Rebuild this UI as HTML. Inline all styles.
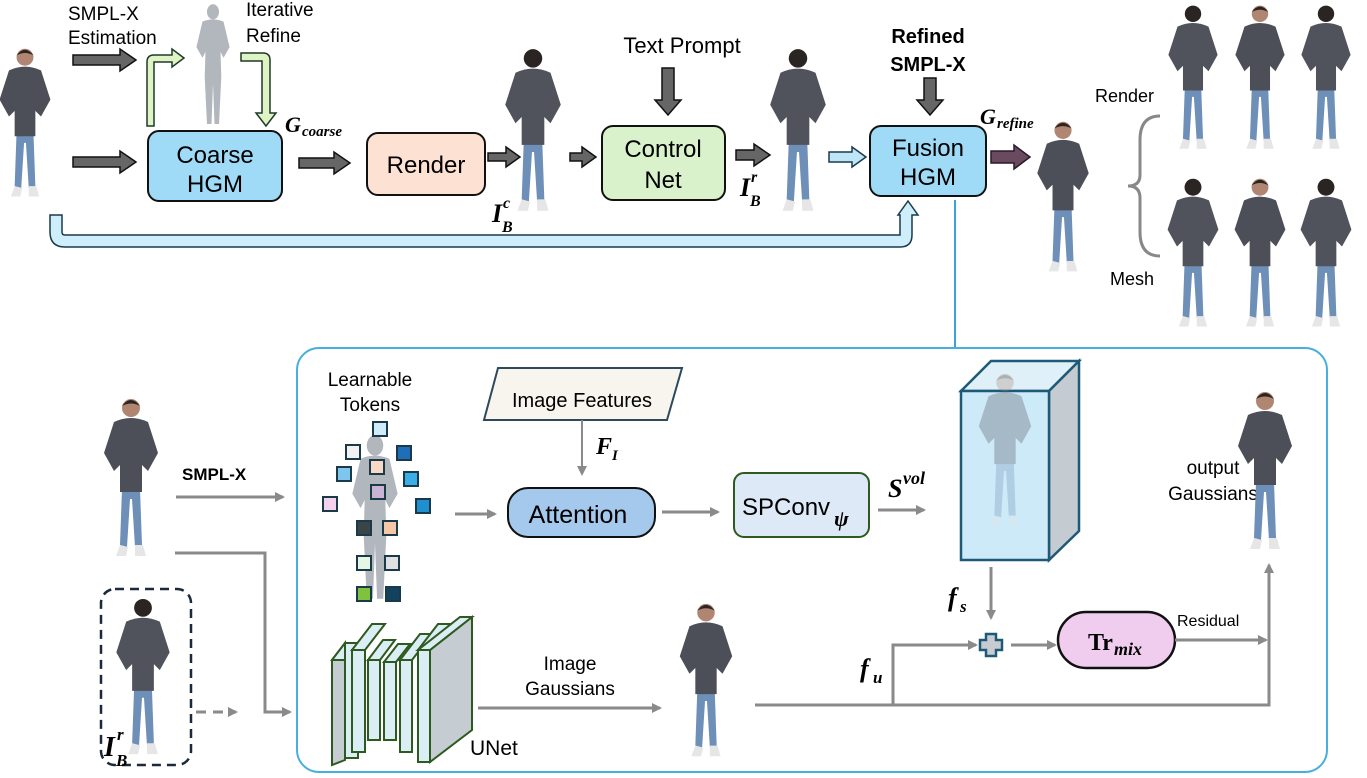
<!DOCTYPE html>
<html><head><meta charset="utf-8"><style>
html,body{margin:0;padding:0;background:#fff;}
svg{display:block;font-family:"Liberation Sans",sans-serif;}
.it{font-family:"Liberation Serif",serif;font-style:italic;font-weight:bold;}
</style></head><body>
<svg width="1367" height="778" viewBox="0 0 1367 778" xmlns="http://www.w3.org/2000/svg">
<defs>
<marker id="ga" markerWidth="10" markerHeight="10" refX="8" refY="5" orient="auto" markerUnits="userSpaceOnUse"><path d="M0,0 L10,5 L0,10 Z" fill="#8a8a8a"/></marker>
<symbol id="pf" viewBox="0 0 60 170">
<path d="M21,94 L39,94 L41,150 L34,152 L31,104 L29,104 L26,152 L19,150 Z" fill="#6d8fb8"/>
<path d="M19,150 L27,152 L25,161 L15,161 Z M34,150 L42,150 L45,161 L34,161 Z" fill="#e6e6e6"/>
<path d="M13,27 Q30,19 47,27 L57,58 L47,76 L41,70 L41,97 L19,97 L19,70 L13,76 L3,58 Z" fill="#4c4f57"/>
<circle cx="30" cy="13" r="9" fill="#b08672"/>
<path d="M21,11 Q30,-1 39,11 Q30,6 21,11Z" fill="#2a2522"/>
</symbol>
<symbol id="pb" viewBox="0 0 60 170">
<path d="M21,94 L39,94 L41,150 L34,152 L31,104 L29,104 L26,152 L19,150 Z" fill="#6d8fb8"/>
<path d="M19,150 L27,152 L25,161 L15,161 Z M34,150 L42,150 L45,161 L34,161 Z" fill="#e6e6e6"/>
<path d="M13,27 Q30,19 47,27 L57,58 L47,76 L41,70 L41,97 L19,97 L19,70 L13,76 L3,58 Z" fill="#50535b"/>
<circle cx="30" cy="13" r="9" fill="#2a2522"/>
</symbol>
<symbol id="pm" viewBox="0 0 60 170">
<ellipse cx="30" cy="13" rx="8" ry="10" fill="#b2b6bd"/>
<path d="M16,26 Q30,20 44,26 L52,60 L44,74 L40,66 L41,100 L38,162 L32,162 L30,108 L28,162 L22,162 L19,100 L20,66 L16,74 L8,60 Z" fill="#b2b6bd"/>
</symbol>
</defs>

<!-- TOP ROW -->
<use href="#pf" x="-5" y="45" width="60" height="160"/>
<text x="68" y="20" font-size="19">SMPL-X</text>
<text x="68" y="44" font-size="19">Estimation</text>
<path d="M73,55 H120 V49 L136,60 L120,71 V65 H73 Z" fill="#666" stroke="#111" stroke-width="1.5"/>
<path d="M73,157 H120 V151 L136,162 L120,173 V167 H73 Z" fill="#666" stroke="#111" stroke-width="1.5"/>
<use href="#pm" x="180" y="2" width="66" height="128"/>
<text x="246" y="16" font-size="19">Iterative</text>
<text x="246" y="42" font-size="19">Refine</text>
<path d="M147,126 V62 Q147,55 154,55 H172 V49 L184,58 L172,67 V62 H154 V126 Z" fill="#dff3c4" stroke="#1f3a2a" stroke-width="1.5"/>
<path d="M241,53 H263 Q270,53 270,60 V113 H276 L266,126 L256,113 H262 V61 H241 Z" fill="#dff3c4" stroke="#1f3a2a" stroke-width="1.5"/>
<rect x="148" y="131" width="134" height="70" rx="11" fill="#9fdaf6" stroke="#111" stroke-width="2"/>
<text x="215" y="163" font-size="24" text-anchor="middle">Coarse</text>
<text x="215" y="192" font-size="24" text-anchor="middle">HGM</text>
<text x="285" y="132" class="it" font-size="22">G</text><text x="302" y="136" class="it" font-size="15">coarse</text>
<path d="M299,158 H334 V152 L350,163 L334,174 V168 H299 Z" fill="#666" stroke="#111" stroke-width="1.5"/>
<rect x="367" y="133" width="118" height="62" rx="11" fill="#fde1d2" stroke="#111" stroke-width="2"/>
<text x="426" y="173" font-size="24" text-anchor="middle">Render</text>
<path d="M488,153 H506 V147 L520,157 L506,167 V161 H488 Z" fill="#666" stroke="#111" stroke-width="1.5"/>
<use href="#pb" x="500" y="45" width="66" height="175"/>
<text x="492" y="222" class="it" font-size="26">I</text><text x="503" y="208" class="it" font-size="16">c</text><text x="502" y="232" class="it" font-size="16">B</text>
<path d="M570,153 H582 V147 L596,157 L582,167 V161 H570 Z" fill="#666" stroke="#111" stroke-width="1.5"/>
<text x="682" y="53" font-size="22" text-anchor="middle">Text Prompt</text>
<path d="M662,68 H674 V100 H681 L668,115 L655,100 H662 Z" fill="#666" stroke="#111" stroke-width="1.5"/>
<rect x="602" y="126" width="123" height="74" rx="11" fill="#daf2cb" stroke="#111" stroke-width="2"/>
<text x="663" y="157" font-size="24" text-anchor="middle">Control</text>
<text x="663" y="188" font-size="24" text-anchor="middle">Net</text>
<path d="M736,150 H754 V144 L770,155 L754,166 V160 H736 Z" fill="#666" stroke="#111" stroke-width="1.5"/>
<text x="740" y="196" class="it" font-size="26">I</text><text x="751" y="182" class="it" font-size="16">r</text><text x="750" y="206" class="it" font-size="16">B</text>
<use href="#pb" x="765" y="45" width="66" height="175"/>
<path d="M829,152 H852 V147 L866,157 L852,167 V162 H829 Z" fill="#bfe6f8" stroke="#1a3a4a" stroke-width="1.5"/>
<text x="928" y="43" font-size="20" font-weight="bold" text-anchor="middle">Refined</text>
<text x="928" y="71" font-size="20" font-weight="bold" text-anchor="middle">SMPL-X</text>
<path d="M924,78 H936 V100 H943 L930,115 L917,100 H924 Z" fill="#666" stroke="#111" stroke-width="1.5"/>
<rect x="870" y="126" width="116" height="70" rx="11" fill="#9fdaf6" stroke="#111" stroke-width="2"/>
<text x="928" y="156" font-size="24" text-anchor="middle">Fusion</text>
<text x="928" y="185" font-size="24" text-anchor="middle">HGM</text>
<text x="980" y="124" class="it" font-size="22">G</text><text x="997" y="128" class="it" font-size="15">refine</text>
<path d="M991,151 H1014 V145 L1030,157 L1014,169 V163 H991 Z" fill="#6a4a5e" stroke="#2a1a2a" stroke-width="1.5"/>
<use href="#pf" x="1030" y="118" width="66" height="162"/>
<text x="1095" y="102" font-size="18">Render</text>
<text x="1110" y="285" font-size="18">Mesh</text>
<path d="M1160,116 Q1140,116 1140,140 V175 Q1140,186 1128,186 Q1140,186 1140,198 V232 Q1140,256 1160,256" fill="none" stroke="#888" stroke-width="3"/>
<use href="#pb" x="1163" y="2" width="60" height="155"/>
<use href="#pf" x="1230" y="2" width="60" height="155"/>
<use href="#pb" x="1293" y="2" width="66" height="155"/>
<use href="#pb" x="1163" y="175" width="60" height="160"/>
<use href="#pf" x="1230" y="175" width="60" height="160"/>
<use href="#pb" x="1293" y="175" width="66" height="160"/>
<path d="M50,215 V232 Q50,247 65,247 H900 Q912,247 912,235 V215 H918 L908,201 L898,215 H900 V235 H65 Q62,235 62,232 V215 Z" fill="#cfeefb" stroke="#1a3a4a" stroke-width="1.5"/>
<line x1="955" y1="200" x2="955" y2="348" stroke="#3aa3d6" stroke-width="2"/>

<!-- BOTTOM -->
<rect x="297" y="348" width="1030" height="424" rx="22" fill="none" stroke="#4aaede" stroke-width="2"/>
<use href="#pf" x="98" y="395" width="66" height="170"/>
<text x="182" y="480" font-size="17" font-weight="bold">SMPL-X</text>
<line x1="176" y1="497" x2="283" y2="497" stroke="#8a8a8a" stroke-width="3" marker-end="url(#ga)"/>
<polyline points="175,553 265,553 265,712 290,712" fill="none" stroke="#8a8a8a" stroke-width="3" marker-end="url(#ga)"/>
<rect x="101" y="589" width="90" height="176" rx="14" fill="none" stroke="#1a2a3a" stroke-width="2.5" stroke-dasharray="9,6"/>
<use href="#pb" x="110" y="595" width="66" height="168"/>
<text x="104" y="756" class="it" font-size="28">I</text><text x="117" y="740" class="it" font-size="17">r</text><text x="116" y="766" class="it" font-size="17">B</text>
<line x1="196" y1="712" x2="236" y2="712" stroke="#8a8a8a" stroke-width="3" stroke-dasharray="10,7" marker-end="url(#ga)"/>
<text x="370" y="386" font-size="19" text-anchor="middle">Learnable</text>
<text x="370" y="411" font-size="19" text-anchor="middle">Tokens</text>
<use href="#pm" x="343" y="432" width="64" height="175"/>
<g stroke="#1a3a4a" stroke-width="2">
<rect x="373" y="422" width="14" height="14" fill="#cfeaf8"/>
<rect x="346" y="445" width="14" height="14" fill="#f2f2f2"/><rect x="397" y="446" width="14" height="14" fill="#1e6fb8"/>
<rect x="370" y="460" width="14" height="14" fill="#f7d9c6"/>
<rect x="337" y="467" width="14" height="14" fill="#7fc6ee"/><rect x="404" y="472" width="14" height="14" fill="#3aaee6"/>
<rect x="371" y="485" width="14" height="14" fill="#c9b4d6"/>
<rect x="323" y="497" width="14" height="14" fill="#f4d2ee"/><rect x="416" y="499" width="14" height="14" fill="#1f8fd0"/>
<rect x="357" y="521" width="14" height="14" fill="#3d4448"/><rect x="383" y="521" width="14" height="14" fill="#f5c6a8"/>
<rect x="357" y="556" width="14" height="14" fill="#e5f6e5"/><rect x="385" y="556" width="14" height="14" fill="#e0e0e0"/>
<rect x="357" y="587" width="14" height="14" fill="#7ec23e"/><rect x="386" y="587" width="14" height="14" fill="#12425e"/>
</g>
<line x1="455" y1="514" x2="495" y2="514" stroke="#8a8a8a" stroke-width="3" marker-end="url(#ga)"/>
<polygon points="498,368 682,368 667,420 484,420" fill="#f7f5ee" stroke="#2d4a5c" stroke-width="2"/>
<text x="582" y="407" font-size="20" text-anchor="middle">Image Features</text>
<line x1="582" y1="420" x2="582" y2="474" stroke="#8a8a8a" stroke-width="2" marker-end="url(#ga)"/>
<text x="596" y="454" class="it" font-size="24">F</text><text x="612" y="460" class="it" font-size="15">I</text>
<rect x="508" y="488" width="147" height="49" rx="20" fill="#a5c9ec" stroke="#111" stroke-width="2"/>
<text x="578" y="523" font-size="25" text-anchor="middle">Attention</text>
<line x1="662" y1="512" x2="718" y2="512" stroke="#8a8a8a" stroke-width="3" marker-end="url(#ga)"/>
<rect x="734" y="473" width="135" height="64" rx="10" fill="#dde9f6" stroke="#2d5a1e" stroke-width="2"/>
<text x="742" y="515" font-size="24">SPConv</text><text x="834" y="526" class="it" font-size="22">ψ</text>
<text x="888" y="497" class="it" font-size="26">S</text><text x="903" y="484" class="it" font-size="18">vol</text>
<line x1="878" y1="510" x2="924" y2="510" stroke="#8a8a8a" stroke-width="3" marker-end="url(#ga)"/>
<polygon points="961,391 991,361 1079,361 1049,391" fill="#dff0f8" stroke="#1e5a78" stroke-width="2.5"/>
<polygon points="1049,391 1079,361 1079,531 1049,560" fill="#c4ccd2" stroke="#1e5a78" stroke-width="2.5"/>
<rect x="961" y="391" width="88" height="169" fill="#cdeaf8" stroke="#1e5a78" stroke-width="2.5"/>
<use href="#pf" x="972" y="370" width="66" height="165" opacity="0.3"/>
<text x="948" y="606" class="it" font-size="26">f</text><text x="960" y="612" class="it" font-size="17">s</text>
<line x1="991" y1="567" x2="991" y2="618" stroke="#8a8a8a" stroke-width="3" marker-end="url(#ga)"/>
<path d="M986,634 h10 v6 h6 v10 h-6 v6 h-10 v-6 h-6 v-10 h6 Z" fill="#c8ccd0" stroke="#1e5a78" stroke-width="2.5"/>
<line x1="1011" y1="645" x2="1055" y2="645" stroke="#8a8a8a" stroke-width="3" marker-end="url(#ga)"/>
<rect x="1058" y="612" width="117" height="56" rx="28" fill="#f0cdee" stroke="#111" stroke-width="2.5"/>
<text x="1088" y="650" font-family="Liberation Serif,serif" font-weight="bold" font-size="24">Tr</text><text x="1114" y="655" font-family="Liberation Serif,serif" font-weight="bold" font-style="italic" font-size="18">mix</text>
<text x="1177" y="626" font-size="16">Residual</text>
<polyline points="1175,640 1266,640" fill="none" stroke="#8a8a8a" stroke-width="3" marker-end="url(#ga)"/>
<polyline points="755,705 1269,705 1269,565" fill="none" stroke="#8a8a8a" stroke-width="3" marker-end="url(#ga)"/>
<polyline points="893,705 893,645 976,645" fill="none" stroke="#8a8a8a" stroke-width="3" marker-end="url(#ga)"/>
<text x="860" y="677" class="it" font-size="26">f</text><text x="873" y="683" class="it" font-size="17">u</text>
<text x="1213" y="474" font-size="19" text-anchor="middle">output</text>
<text x="1213" y="500" font-size="19" text-anchor="middle">Gaussians</text>
<use href="#pf" x="1232" y="388" width="66" height="170"/>
<g stroke="#2d5a1e" stroke-width="2">
<polygon points="332,660 345,643 345,760 332,765" fill="#c5cdd2"/><polygon points="332,660 345,643 358,643 345,660" fill="#dceef5"/><rect x="345" y="643" width="13" height="115" fill="#dceef5"/>
<polygon points="352,650 372,624 385,624 365,650" fill="#dceef5"/><rect x="352" y="650" width="13" height="102" fill="#dceef5"/>
<polygon points="368,660 383,640 395,640 380,660" fill="#dceef5"/><rect x="368" y="660" width="12" height="80" fill="#dceef5"/>
<polygon points="384,662 398,644 410,644 396,662" fill="#dceef5"/><rect x="384" y="662" width="12" height="78" fill="#dceef5"/>
<polygon points="400,660 420,634 432,634 412,660" fill="#dceef5"/><rect x="400" y="660" width="12" height="92" fill="#dceef5"/>
<polygon points="418,650 438,624 450,624 430,650" fill="#dceef5"/><rect x="418" y="650" width="12" height="112" fill="#dceef5"/>
<polygon points="430,650 472,617 472,730 430,762" fill="#c5cdd2"/><polygon points="418,650 460,617 472,617 430,650" fill="#dceef5"/>
</g>
<text x="470" y="755" font-size="21">UNet</text>
<text x="570" y="670" font-size="19" text-anchor="middle">Image</text>
<text x="570" y="695" font-size="19" text-anchor="middle">Gaussians</text>
<line x1="478" y1="708" x2="660" y2="708" stroke="#8a8a8a" stroke-width="3" marker-end="url(#ga)"/>
<use href="#pf" x="673" y="600" width="66" height="165"/>
</svg>
</body></html>
